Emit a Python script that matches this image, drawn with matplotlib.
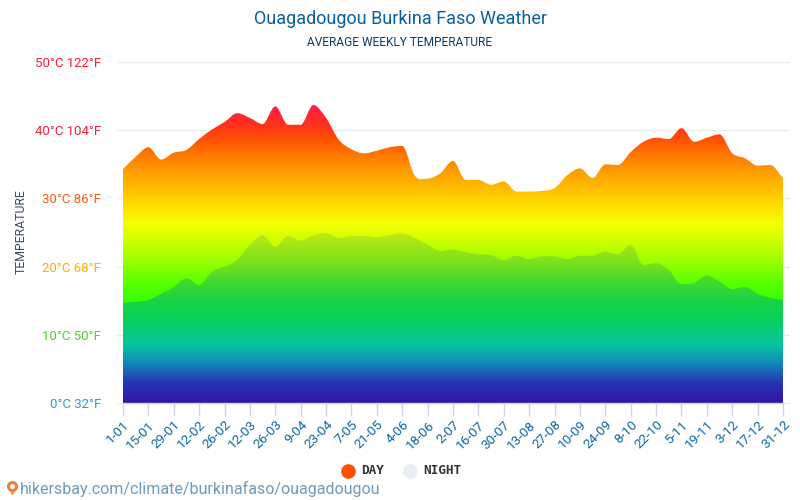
import numpy as np
import matplotlib
matplotlib.use('Agg')
import matplotlib.pyplot as plt
from matplotlib.colors import LinearSegmentedColormap
from matplotlib.path import Path
from matplotlib.patches import PathPatch
from matplotlib.transforms import ScaledTranslation

plt.rcParams['font.family'] = ['Roboto', 'DejaVu Sans']

tick_labels = ['1-01', '15-01', '29-01', '12-02', '26-02', '12-03', '26-03', '9-04', '23-04',
               '7-05', '21-05', '4-06', '18-06', '2-07', '16-07', '30-07', '13-08', '27-08',
               '10-09', '24-09', '8-10', '22-10', '5-11', '19-11', '3-12', '17-12', '31-12']
y_ticks = [0, 10, 20, 30, 40, 50]
y_labels = ['0°C 32°F', '10°C 50°F', '20°C 68°F', '30°C 86°F', '40°C 104°F', '50°C 122°F']
y_label_colors = ['#2f9bd6', '#55d020', '#ffb000', '#ff5a14', '#f5203c', '#f5203c']

day = [34.3, 36.1, 37.5, 35.7, 36.7, 37.1, 38.7, 40.1, 41.2, 42.5, 41.8, 40.9, 43.5, 40.8,
       40.8, 43.7, 41.8, 38.6, 37.2, 36.6, 37.0, 37.5, 37.7, 33.3, 32.9, 33.7, 35.5, 32.7,
       32.7, 32.0, 32.5, 31.0, 31.0, 31.1, 31.5, 33.4, 34.4, 33.0, 35.0, 34.9, 36.8, 38.3,
       38.9, 38.7, 40.3, 38.3, 38.9, 39.4, 36.6, 35.9, 34.8, 34.9, 33.0]
night = [14.7, 14.85, 15.1, 16.0, 17.0, 18.3, 17.3, 19.25, 20.0, 21.0, 23.2, 24.6, 22.9, 24.5,
         23.8, 24.6, 24.9, 24.2, 24.5, 24.5, 24.3, 24.6, 24.9, 24.2, 23.2, 22.3, 22.5, 22.1,
         21.8, 21.7, 20.9, 21.6, 21.1, 21.5, 21.5, 21.1, 21.6, 21.6, 22.2, 21.8, 23.2, 20.2,
         20.5, 19.5, 17.4, 17.6, 18.7, 17.8, 16.7, 17.0, 16.0, 15.4, 15.1]

# colour stops by temperature
day_stops = [(0, '#3a18a8'), (14, '#30ff00'), (17, '#50ff00'), (22, '#b0ff00'), (26.4, '#f5ff00'),
             (30, '#ffd000'), (35, '#ff9000'), (38.5, '#ff5500'), (41, '#ff3020'), (44, '#ff1c48'),
             (50, '#ff1c48')]
night_stops = [(0, '#3414a8'), (3, '#2438b4'), (6, '#1090b8'), (8.5, '#06c4a0'), (12, '#08d05c'),
               (15, '#18d444'), (18, '#48d82c'), (20, '#70e020'), (22, '#90e418'), (25, '#c0ea12'),
               (50, '#c0ea12')]
day_cmap = LinearSegmentedColormap.from_list('day', [(t / 50, c) for t, c in day_stops])
night_cmap = LinearSegmentedColormap.from_list('night', [(t / 50, c) for t, c in night_stops])


def area_path(xs, ys):
    # smooth outline through the points, closed along y=0
    xs = np.array(xs, float)
    ys = np.array(ys, float)
    slope = np.gradient(ys, xs)
    d = np.diff(ys) / np.diff(xs)
    for i in range(1, len(ys) - 1):
        if d[i - 1] * d[i] <= 0:
            slope[i] = 0
    verts = [(xs[0], 0), (xs[0], ys[0])]
    codes = [Path.MOVETO, Path.LINETO]
    for i in range(len(xs) - 1):
        h = (xs[i + 1] - xs[i]) / 3
        verts += [(xs[i] + h, ys[i] + slope[i] * h), (xs[i + 1] - h, ys[i + 1] - slope[i + 1] * h),
                  (xs[i + 1], ys[i + 1])]
        codes += [Path.CURVE4] * 3
    verts += [(xs[-1], 0), (xs[0], 0)]
    codes += [Path.LINETO, Path.LINETO]
    return Path(verts, codes)


fig = plt.figure(figsize=(8, 5), dpi=100)
ax = fig.add_axes([123 / 800, 1 - 403 / 500, 660 / 800, 341 / 500])

x = np.arange(len(day))
grad = np.linspace(0, 1, 500).reshape(-1, 1)
extent = [0, 52, 0, 50]
im = ax.imshow(grad, origin='lower', aspect='auto', cmap=day_cmap, extent=extent, zorder=2)
im.set_clip_path(PathPatch(area_path(x, day), transform=ax.transData))
im2 = ax.imshow(grad, origin='lower', aspect='auto', cmap=night_cmap, extent=extent, zorder=3)
im2.set_clip_path(PathPatch(area_path(x, night), transform=ax.transData))
ax.set_xlim(0, 52)
ax.set_ylim(0, 50)

for s in ax.spines.values():
    s.set_visible(False)
ax.axhline(0, color='#ccd6eb', lw=1, zorder=5, clip_on=False)

ax.set_yticks(y_ticks)
ax.set_yticklabels(y_labels, fontsize=9.5)
for lab, c in zip(ax.get_yticklabels(), y_label_colors):
    lab.set_color(c)
ax.tick_params(axis='y', length=0, pad=16)
# gridlines start left of the plot, run to the chart edge
for t in y_ticks:
    ax.plot([-0.5, 52.5], [t, t], color='#ebebeb', lw=1, zorder=1, clip_on=False)

ax.set_xticks(x[::2])
ax.set_xticklabels(tick_labels, rotation=45, fontsize=9.7, color='#0a6aa0',
                   rotation_mode='anchor', ha='right', va='top')
shift = ScaledTranslation(-3 / 100, 0, fig.dpi_scale_trans)
for lab in ax.get_xticklabels():
    lab.set_transform(lab.get_transform() + shift)
ax.tick_params(axis='x', length=9, width=1, color='#ccd6eb', pad=2)

fig.text(21 / 800, 1 - 232 / 500, 'TEMPERATURE', rotation=90, fontsize=8.8, color='#3f4a6b',
         ha='center', va='center')
fig.text(0.5, 1 - 19 / 500, 'Ouagadougou Burkina Faso Weather', fontsize=13, color='#0a5f9e',
         ha='center', va='center')
fig.text(0.5, 1 - 42 / 500, 'AVERAGE WEEKLY TEMPERATURE', fontsize=8.6, color='#0c3c66',
         ha='center', va='center')

# legend drawn by hand in figure coordinates
fig.add_artist(plt.Line2D([348 / 800], [1 - 471 / 500], marker='o', ms=9.5, color='#ff5000',
                          transform=fig.transFigure))
fig.add_artist(plt.Line2D([410 / 800], [1 - 471 / 500], marker='o', ms=9.5, color='#e8eef3',
                          transform=fig.transFigure))
fig.text(361 / 800, 1 - 471 / 500, 'DAY', fontsize=9.2, family='DejaVu Sans Mono', weight='bold',
         color='#333333', va='center')
fig.text(423 / 800, 1 - 471 / 500, 'NIGHT', fontsize=9.2, family='DejaVu Sans Mono', weight='bold',
         color='#333333', va='center')

fig.text(20 / 800, 1 - 489 / 500, 'hikersbay.com/climate/burkinafaso/ouagadougou', fontsize=11.55,
         color='#6a9cc0', va='center')
# map pin
fig.add_artist(plt.Line2D([12 / 800], [1 - 491 / 500], marker='v', ms=5, color='#e8a040',
                          transform=fig.transFigure))
fig.add_artist(plt.Line2D([12 / 800], [1 - 486 / 500], marker='o', ms=7, color='#ee8040',
                          transform=fig.transFigure))
fig.add_artist(plt.Line2D([12 / 800], [1 - 486 / 500], marker='o', ms=2.5, color='#ffffff',
                          transform=fig.transFigure))

fig.savefig('out.png', dpi=100)
